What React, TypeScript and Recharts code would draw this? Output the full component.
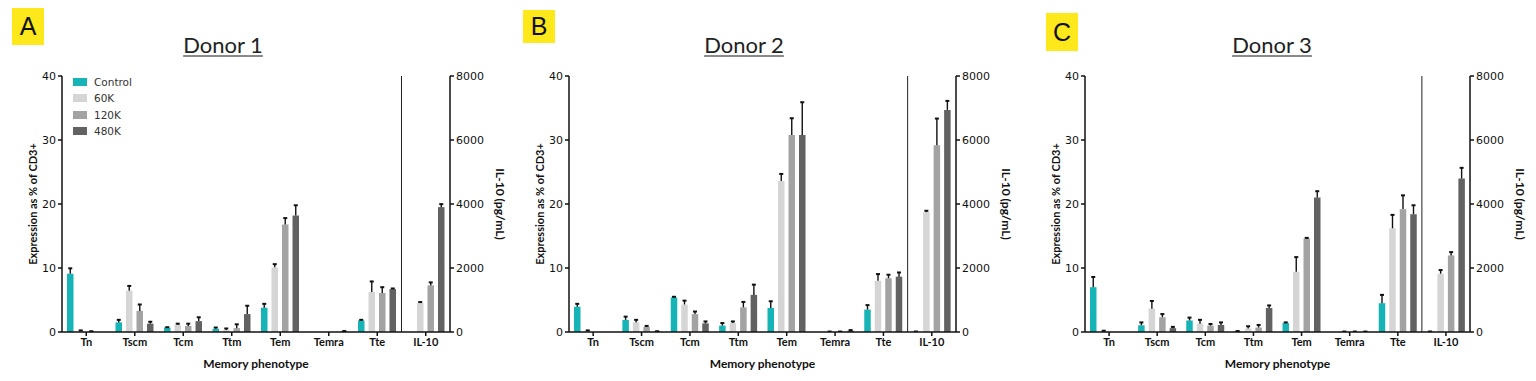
import React from 'react';
import { BarChart, Bar, XAxis, YAxis, Legend, ReferenceLine, Label } from 'recharts';

const categories = ['Tn', 'Tscm', 'Tcm', 'Ttm', 'Tem', 'Temra', 'Tte', 'IL-10'];
const seriesNames = ['Control', '60K', '120K', '480K'];
const seriesKeys = ['c', 'a', 'b', 'd'];
const seriesColors = ['#17b4b7', '#d5d5d5', '#a3a3a4', '#626262'];
const leftTicks = [0, 10, 20, 30, 40];
const rightTicks = [0, 2000, 4000, 6000, 8000];

// Donor 1 (phenotypes Tn..Tte, % of CD3+)
const d1Control = [9.1, 1.5, 0.7, 0.5, 3.8, 0, 1.8];
const d1ControlErr = [0.85, 0.4, 0.05, 0.2, 0.6, null, 0.1];
const d1K60 = [0.2, 6.45, 1.15, 0.3, 10.1, 0, 6.25];
const d1K60Err = [0.05, 0.75, 0.15, 0.25, 0.5, null, 1.65];
const d1K120 = [0.1, 3.3, 0.95, 0.6, 16.8, 0, 6.1];
const d1K120Err = [0.02, 1.0, 0.35, 0.6, 1.0, null, 0.9];
const d1K480 = [0, 1.3, 1.7, 2.8, 18.2, 0.1, 6.7];
const d1K480Err = [null, 0.3, 0.6, 1.3, 1.6, 0.05, 0.1];
const d1IL10 = [null, 905, 1457, 3902];
const d1IL10Err = [null, 31, 93, 94];

// Donor 2
const d2Control = [3.95, 1.9, 5.4, 1.0, 3.75, 0, 3.5];
const d2ControlErr = [0.45, 0.5, 0.1, 0.4, 1.05, null, 0.7];
const d2K60 = [0.2, 1.5, 4.3, 1.4, 23.6, 0.05, 8.0];
const d2K60Err = [0.05, 0.4, 0.6, 0.25, 1.1, 0.02, 1.05];
const d2K120 = [0, 0.8, 2.8, 3.85, 30.8, 0.05, 8.4];
const d2K120Err = [null, 0.15, 0.4, 0.85, 2.6, 0.02, 0.55];
const d2K480 = [0, 0.1, 1.35, 5.8, 30.8, 0.2, 8.65];
const d2K480Err = [null, 0.02, 0.3, 1.6, 5.1, 0.1, 0.65];
const d2IL10 = [10, 3746, 5838, 6941];
const d2IL10Err = [5, 42, 832, 281];

// Donor 3
const d3Control = [7.0, 1.05, 1.8, 0.1, 1.4, 0, 4.5];
const d3ControlErr = [1.6, 0.45, 0.45, 0.05, 0.1, null, 1.3];
const d3K60 = [0.15, 3.65, 1.3, 0.55, 9.4, 0.05, 16.2];
const d3K60Err = [0.05, 1.2, 0.6, 0.35, 2.3, 0.02, 2.1];
const d3K120 = [0, 2.3, 1.0, 0.7, 14.6, 0.05, 19.2];
const d3K120Err = [null, 0.5, 0.25, 0.4, 0.1, 0.02, 2.15];
const d3K480 = [0, 0.6, 1.1, 3.75, 21.0, 0.05, 18.4];
const d3K480Err = [null, 0.2, 0.4, 0.4, 1.0, 0.02, 1.4];
const d3IL10 = [10, 1821, 2393, 4797];
const d3IL10Err = [5, 114, 104, 333];

type N = number | null;

function buildRows(vals: N[][], errs: N[][], il: N[], ilErr: N[]) {
  return categories.map((cat, i) => {
    const row: any = { cat };
    seriesKeys.forEach((k, s) => {
      if (i < 7) {
        row[k] = vals[s][i];
        row[k + 'E'] = errs[s][i];
        row['i' + k] = null;
        row['i' + k + 'E'] = null;
      } else {
        row[k] = null;
        row[k + 'E'] = null;
        row['i' + k] = il[s];
        row['i' + k + 'E'] = ilErr[s];
      }
    });
    return row;
  });
}

const panels = [
  {
    title: 'Donor 1', letter: 'A', left: 0, plotW: 388, titleX: 223,
    box: { left: 12, top: 8, width: 32, height: 37 }, legend: true,
    rows: buildRows(
      [d1Control, d1K60, d1K120, d1K480],
      [d1ControlErr, d1K60Err, d1K120Err, d1K480Err],
      d1IL10, d1IL10Err),
  },
  {
    title: 'Donor 2', letter: 'B', left: 507, plotW: 387, titleX: 744,
    box: { left: 523, top: 10, width: 32, height: 33 }, legend: false,
    rows: buildRows(
      [d2Control, d2K60, d2K120, d2K480],
      [d2ControlErr, d2K60Err, d2K120Err, d2K480Err],
      d2IL10, d2IL10Err),
  },
  {
    title: 'Donor 3', letter: 'C', left: 1023, plotW: 385, titleX: 1272,
    box: { left: 1046, top: 13, width: 32, height: 38 }, legend: false,
    rows: buildRows(
      [d3Control, d3K60, d3K120, d3K480],
      [d3ControlErr, d3K60Err, d3K120Err, d3K480Err],
      d3IL10, d3IL10Err),
  },
];

const makeErrShape = (errKey: string) => (props: any) => {
  const { x, y, width, height, payload } = props;
  const src = payload || props;
  if (src == null || src[errKey] == null) return <g />;
  const cx = x + width / 2;
  return (
    <g>
      <line x1={cx} x2={cx} y1={y + height} y2={y} stroke="#111" strokeWidth={1.4} />
      <line x1={cx - 2} x2={cx + 2} y1={y} y2={y} stroke="#111" strokeWidth={2} />
    </g>
  );
};

const LegendContent = (props: any) => {
  const items = (props.payload || [])
    .filter((p: any) => seriesNames.includes(p.value))
    .sort((p: any, q: any) => seriesNames.indexOf(p.value) - seriesNames.indexOf(q.value));
  return (
    <div style={{ fontFamily: 'DejaVu Sans', fontSize: 10.5, color: '#333' }}>
      {items.map((p: any) => (
        <div key={p.value} style={{ display: 'flex', alignItems: 'center', height: 16.3 }}>
          <span style={{ display: 'inline-block', width: 14, height: 8, background: p.color, marginRight: 7 }} />
          <span>{p.value}</span>
        </div>
      ))}
    </div>
  );
};

const tickNum = { fontSize: 11, fill: '#111', fontFamily: 'DejaVu Sans' };
const tickCat = { fontSize: 11, fill: '#111', fontFamily: 'Lato', fontWeight: 700 };
const axisStroke = { stroke: '#111', strokeWidth: 1.5 };

function Panel({ p }: { p: any }) {
  const W = 512;
  const H = 381;
  const rightMargin = W - 62 - p.plotW - 62;
  return (
    <div style={{ position: 'absolute', left: p.left, top: 0, width: W, height: H }}>
      <BarChart
        width={W}
        height={H}
        data={p.rows}
        margin={{ top: 76, right: rightMargin, bottom: 0, left: 0 }}
        barSize={6.5}
        barGap={4}
      >
        <XAxis
          xAxisId="amain"
          dataKey="cat"
          height={49}
          tick={tickCat}
          tickSize={4}
          tickMargin={2}
          axisLine={axisStroke}
          tickLine={axisStroke}
          interval={0}
        >
          <Label
            value="Memory phenotype"
            position="insideBottom"
            offset={13}
            style={{ fontFamily: 'Lato', fontWeight: 700, fontSize: 12, fill: '#111' }}
          />
        </XAxis>
        <XAxis xAxisId="zil" dataKey="cat" hide height={0} />
        <YAxis
          yAxisId="left"
          width={62}
          domain={[0, 40]}
          ticks={leftTicks}
          tick={tickNum}
          tickSize={4}
          tickMargin={2}
          axisLine={axisStroke}
          tickLine={axisStroke}
          allowDataOverflow
        >
          <Label
            value="Expression as % of CD3+"
            angle={-90}
            position="center"
            dx={2}
            style={{ fontFamily: 'Lato', fontWeight: 700, fontSize: 11, fill: '#111', textAnchor: 'middle' }}
          />
        </YAxis>
        <YAxis
          yAxisId="right"
          orientation="right"
          width={62}
          domain={[0, 8000]}
          ticks={rightTicks}
          tick={tickNum}
          tickSize={4}
          tickMargin={2}
          axisLine={axisStroke}
          tickLine={axisStroke}
          allowDataOverflow
        >
          <Label
            value="IL-10 (pg/mL)"
            angle={90}
            position="center"
            dx={19}
            style={{ fontFamily: 'Lato', fontWeight: 700, fontSize: 12, fill: '#111', textAnchor: 'middle' }}
          />
        </YAxis>
        <ReferenceLine
          x="IL-10"
          xAxisId="amain"
          yAxisId="left"
          position="start"
          stroke="#222"
          strokeWidth={1}
        />
        {seriesKeys.map((k, s) => [
          <Bar
            key={k}
            xAxisId="amain"
            yAxisId="left"
            dataKey={k}
            stackId={k}
            name={seriesNames[s]}
            fill={seriesColors[s]}
            isAnimationActive={false}
          />,
          <Bar
            key={k + 'E'}
            xAxisId="amain"
            yAxisId="left"
            dataKey={k + 'E'}
            stackId={k}
            fill="transparent"
            legendType="none"
            shape={makeErrShape(k + 'E')}
            isAnimationActive={false}
          />,
        ])}
        {seriesKeys.map((k, s) => [
          <Bar
            key={'i' + k}
            xAxisId="zil"
            yAxisId="right"
            dataKey={'i' + k}
            stackId={'i' + k}
            fill={seriesColors[s]}
            legendType="none"
            isAnimationActive={false}
          />,
          <Bar
            key={'i' + k + 'E'}
            xAxisId="zil"
            yAxisId="right"
            dataKey={'i' + k + 'E'}
            stackId={'i' + k}
            fill="transparent"
            legendType="none"
            shape={makeErrShape('i' + k + 'E')}
            isAnimationActive={false}
          />,
        ])}
        {p.legend && (
          <Legend
            layout="vertical"
            align="center"
            verticalAlign="middle"
            content={<LegendContent />}
            wrapperStyle={{ left: 73, top: 74, width: 'auto', height: 'auto' }}
          />
        )}
      </BarChart>
    </div>
  );
}

export default function App() {
  return (
    <div
      style={{
        position: 'absolute',
        left: 0,
        top: 0,
        width: 1536,
        height: 381,
        background: '#fff',
        overflow: 'hidden',
      }}
    >
      {panels.map((p) => (
        <React.Fragment key={p.title}>
          <div
            style={{
              position: 'absolute',
              left: p.box.left,
              top: p.box.top,
              width: p.box.width,
              height: p.box.height,
              background: '#fde81c',
              display: 'flex',
              alignItems: 'center',
              justifyContent: 'center',
              fontFamily: 'Liberation Sans',
              fontSize: 25,
              color: '#111',
            }}
          >
            {p.letter}
          </div>
          <div
            style={{
              position: 'absolute',
              left: p.titleX,
              top: 34,
              transform: 'translateX(-50%)',
              fontFamily: 'Lato',
              fontSize: 22,
              lineHeight: '22px',
              color: '#222',
              whiteSpace: 'nowrap',
              textDecoration: 'underline',
              textDecorationColor: '#8a8a8a',
              textDecorationThickness: '2px',
              textUnderlineOffset: '2px',
            }}
          >
            {p.title}
          </div>
          <Panel p={p} />
        </React.Fragment>
      ))}
    </div>
  );
}
